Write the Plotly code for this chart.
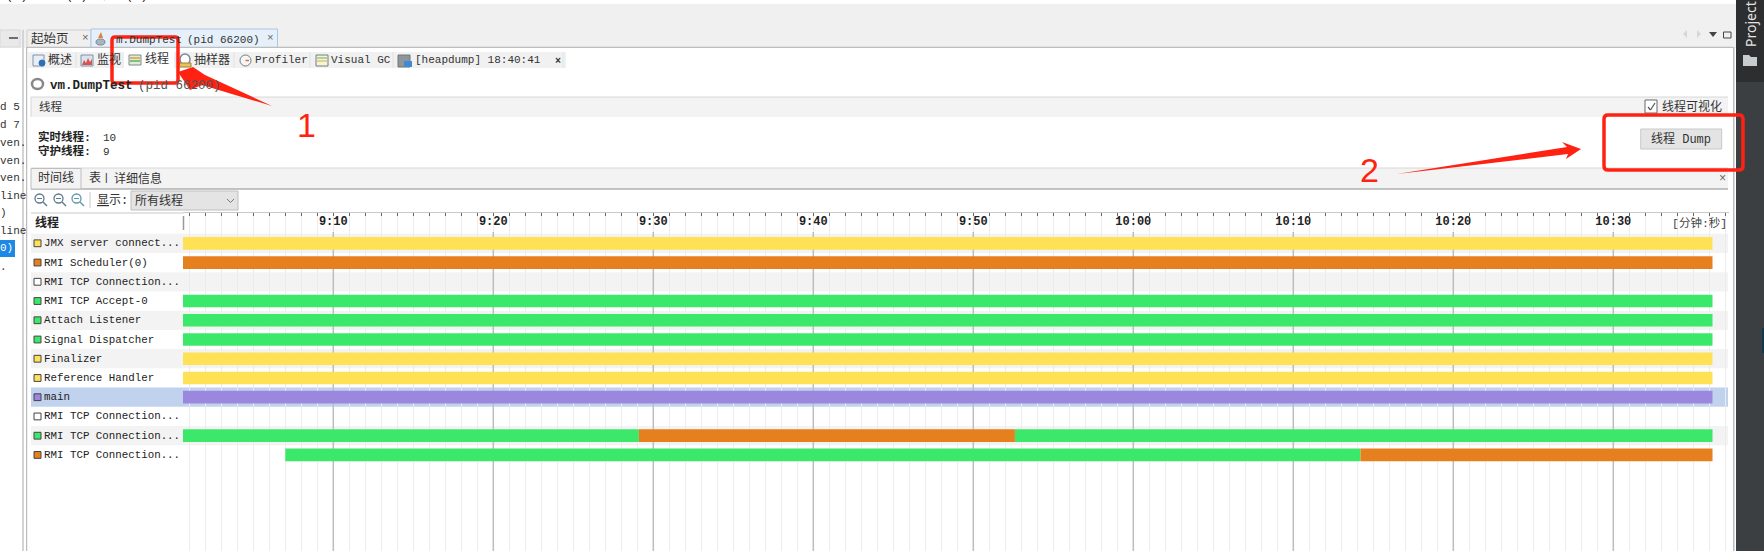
import plotly.graph_objects as go

# ---------- data ----------
thread_names = ["JMX server connect...", "RMI Scheduler(0)", "RMI TCP Connection...", "RMI TCP Accept-0",
                "Attach Listener", "Signal Dispatcher", "Finalizer", "Reference Handler", "main",
                "RMI TCP Connection...", "RMI TCP Connection...", "RMI TCP Connection..."]
thread_marker = ["#FFE156", "#E67F1E", "#FFFFFF", "#3CE86A", "#3CE86A", "#3CE86A", "#FFE156", "#FFE156",
                 "#9B87DE", "#FFFFFF", "#3CE86A", "#E67F1E"]
tick_seconds = [550, 560, 570, 580, 590, 600, 610, 620, 630]
tick_labels = ["9:10", "9:20", "9:30", "9:40", "9:50", "10:00", "10:10", "10:20", "10:30"]

running_rows = [3, 4, 5, 10, 10, 11]
running_start = [540.6, 540.6, 540.6, 540.6, 592.6, 547.0]
running_end = [636.2, 636.2, 636.2, 569.1, 636.2, 614.2]
monitor_rows = [1, 10, 11]
monitor_start = [540.6, 569.1, 614.2]
monitor_end = [636.2, 592.6, 636.2]
wait_rows = [0, 6, 7]
wait_start = [540.6, 540.6, 540.6]
wait_end = [636.2, 636.2, 636.2]
sleep_rows = [8]
sleep_start = [540.6]
sleep_end = [636.2]

GREEN, ORANGE, YELLOW, PURPLE = "#3CE86A", "#E67F1E", "#FFE156", "#9B87DE"
RED = "#FF2212"
W, H = 1764, 551
MONO = "Liberation Mono, Noto Sans CJK SC, monospace"

def px(x): return x / W
def py(y): return 1 - y / H

shapes, annos = [], []

def rect(x0, y0, x1, y1, fill="rgba(0,0,0,0)", line=None, lw=1, layer="below"):
    shapes.append(dict(type="rect", xref="paper", yref="paper", x0=px(x0), x1=px(x1), y0=py(y0), y1=py(y1),
                       fillcolor=fill, line=dict(color=line or "rgba(0,0,0,0)", width=lw if line else 0), layer=layer))

def line(x0, y0, x1, y1, color, lw=1, layer="below"):
    shapes.append(dict(type="line", xref="paper", yref="paper", x0=px(x0), x1=px(x1), y0=py(y0), y1=py(y1),
                       line=dict(color=color, width=lw), layer=layer))

def circ(x0, y0, x1, y1, fill="rgba(0,0,0,0)", col="#888", lw=1, layer="below"):
    shapes.append(dict(type="circle", xref="paper", yref="paper", x0=px(x0), x1=px(x1), y0=py(y0), y1=py(y1),
                       fillcolor=fill, line=dict(color=col, width=lw), layer=layer))

def poly(pts, fill, layer="above"):
    d = "M " + " L ".join(f"{px(a):.5f},{py(b):.5f}" for a, b in pts) + " Z"
    shapes.append(dict(type="path", xref="paper", yref="paper", path=d, fillcolor=fill, line=dict(width=0), layer=layer))

def txt(x, y, s, size=11, color="#333", anchor="left", family=MONO, angle=0):
    annos.append(dict(xref="paper", yref="paper", x=px(x), y=py(y), text=s, showarrow=False, xanchor=anchor,
                      yanchor="middle", textangle=angle, borderpad=0, borderwidth=0,
                      font=dict(size=size, color=color, family=family)))

# ---------- window chrome ----------
rect(0, 4, 1736, 48, "#F0F0F0")
rect(0, 30, 20, 47, "#E9E9E9", "#D8D8D8")
line(9, 38, 18, 38, "#444", 1.5)
rect(22, 30, 24, 551, "#D4D4D4")
rect(26, 47, 27.5, 551, "#BDBDBD")
rect(1733, 47, 1734.5, 551, "#BDBDBD")
rect(1736, 0, 1764, 82, "#2C2E30")
rect(1736, 82, 1764, 551, "#3C3F41")
rect(1762, 328, 1764, 353, "#12384F")

# tabs
rect(27, 30, 91, 47.5, "#EFEFEF", "#CFCFCF")
rect(91, 29, 277.5, 47.5, "#E6F0FA", "#A9C6E2")
line(27, 47.5, 1733, 47.5, "#BDBDBD", 1.5)
rect(27.5, 48, 1733, 551, "#FFFFFF")
rect(28, 52, 566, 68, "#F1F1F1")
rect(123, 50, 175, 70, "#FFFFFF")
for xs in (76, 123, 175, 234, 310, 393, 563):
    line(xs, 52, xs, 68, "#E2E2E2")
# sub-tab icons
rect(33, 55, 44, 66, "#E8EEF5", "#7E93A8")
circ(39, 60, 45, 66, "#2E6FB7", "#2E6FB7")
rect(81, 55, 93, 66, "#D9E3EE", "#7E93A8")
poly([(82, 65), (84, 60), (86, 63), (88, 58), (90, 62), (92, 59), (92, 65)], "#D9534F", "below")
rect(129, 55, 141, 65, "#E5EAD8", "#7D8B8B")
line(130, 58, 140, 58, "#D9A03C", 1.5)
line(130, 61, 140, 61, "#54B56A", 1.5)
circ(180, 54, 190, 65, "#FFFFFF", "#7B8794", 1.5)
rect(179, 63, 191, 67, "#E8C25A", "#A08437")
circ(240, 55, 251, 66, "#F6F6F6", "#6D7B88")
line(245.5, 60.5, 249, 60.5, "#D9703C", 1.5)
rect(316, 55, 328, 66, "#F4F4D8", "#6F8080")
line(317, 58, 327, 58, "#5FB36A", 1)
line(317, 61, 327, 61, "#E0A840", 1)
rect(398, 55, 410, 67, "#8E969C", "#6E767C")
rect(404, 61, 412, 67, "#3D8BD1")
txt(60, 60.5, "概述", 12, anchor="center")
txt(109, 60.5, "监视", 12, anchor="center")
txt(157, 59, "线程", 12, anchor="center")
txt(212, 60.5, "抽样器", 12, anchor="center")
txt(254.5, 60.5, "Profiler", 11)
txt(330.5, 60.5, "Visual GC", 11)
txt(414.5, 60.5, "[heapdump] 18:40:41", 11)
txt(557.5, 61, "<b>×</b>", 10, anchor="center")
# main tabs
txt(50, 39, "起始页", 12.5, anchor="center")
txt(85, 38.5, "×", 11, "#666", "center")
circ(96, 39, 105, 45, "#A8B4BE", "#7A8791")
poly([(98, 38), (101, 32), (103, 38)], "#E0803A", "below")
txt(116, 40, "m.DumpTest", 11)
txt(187, 40, "(pid 66200)", 11)
txt(270, 38.5, "×", 11, "#666", "center")
# right controls
poly([(1683, 34), (1687, 30), (1687, 38)], "#D6D6D6", "below")
poly([(1701, 34), (1697, 30), (1697, 38)], "#D6D6D6", "below")
poly([(1709, 32), (1717, 32), (1713, 37)], "#444444", "below")
rect(1723.5, 32, 1731, 38, "#F0F0F0", "#444", 1)
# heading
circ(32, 79, 43, 89, "rgba(0,0,0,0)", "#888", 2.5)
txt(50, 86.5, "<b>vm.DumpTest</b>", 12.5, "#222")
txt(137.5, 86.5, "(pid 66200)", 12.5, "#555")
# section band
rect(31, 97, 1728, 117, "#F3F3F3")
line(31, 97, 1728, 97, "#D8D8D8", 1)
line(31, 97, 31, 117, "#D8D8D8", 1)
txt(39, 107, "线程", 11.5)
rect(1645, 100, 1657, 113, "#FFFFFF", "#666")
line(1648, 107, 1650.5, 110, "#555", 1.2)
line(1650.5, 110, 1655, 103, "#555", 1.2)
txt(1662, 107, "线程可视化", 12)
# stats
txt(37.5, 137, "<b>实时线程:</b>", 11.5, "#222")
txt(102.5, 137.5, "10", 11)
txt(37.5, 151.5, "<b>守护线程:</b>", 11.5, "#222")
txt(102.5, 152, "9", 11)
# button
rect(1640.7, 129, 1721.7, 149, "#E4E4E4", "#C9C9C9")
txt(1681, 139, "线程 Dump", 12, anchor="center")
# timeline tab bar
rect(31, 168, 1728, 189, "#F3F3F3")
line(31, 168, 1728, 168, "#D8D8D8", 1)
line(31, 189, 1728, 189, "#B0B0B0", 1.5)
rect(31, 168.5, 81, 189, "#F3F3F3", "#BEBEBE")
txt(56, 178.5, "时间线", 12, anchor="center")
txt(89, 178.5, "表", 12)
txt(106, 178, "|", 11, anchor="center")
txt(114, 178.5, "详细信息", 12)
txt(1722, 179, "×", 12, "#666", "center")
# toolbar
for cx, col in ((41, "#5E7A8C"), (60, "#5E7A8C"), (78, "#5E9AAC")):
    circ(cx - 6, 194, cx + 3, 203, "rgba(0,0,0,0)", col, 1.3)
    line(cx + 2, 202, cx + 6, 206, col, 1.5)
    line(cx - 4, 198.5, cx + 1, 198.5, col, 1)
line(90, 192, 90, 208, "#C8C8C8", 1)
txt(97, 200.5, "<u>显</u>示:", 12)
rect(131, 191, 238, 210, "#E4E4E4", "#BEBEBE")
txt(135, 200.5, "所有线程", 12)
line(227, 199, 230.5, 202.5, "#777", 1)
line(230.5, 202.5, 234, 199, "#777", 1)
# column header
line(31, 213, 183, 213, "#C8C8C8", 1)
line(183.5, 216, 183.5, 230, "#999", 1.5)
txt(34.5, 223, "<b>线程</b>", 12, "#222")
txt(1672, 223, "[分钟:秒]", 11.5, "#444")

# left panel clipped text
for y, s in ((107, "d 5"), (125, "d 7"), (143, "ven."), (161, "ven."), (178, "ven."), (196, "line"),
             (213, ")"), (231, "line")):
    txt(0, y, s, 11, "#333")
rect(0, 240, 15, 257, "#1E88E5")
txt(0, 248, "0)", 11, "#FFFFFF")
txt(0, 267, ".", 11, "#333")
# top menu, mostly cut off by the picture edge as in the reference
txt(6, -4, "(E)  工具(T)  窗口(W)", 12, "#333")
# right sidebar
txt(1750, 24, "Project", 14, "#E4E4E4", "center", "Noto Sans", -90)
poly([(1743, 55), (1749, 55), (1751, 57), (1757, 57), (1757, 66), (1743, 66)], "#C9CCCE", "above")

# ---------- thread rows ----------
ROW0 = 243.3
ROWH = 19.24
def row_px(i): return ROW0 + ROWH * i
ytop = (213 - ROW0) / ROWH
ybot = (551 - ROW0) / ROWH
n = len(thread_names)
for i in range(n):
    col = "#C0D2EE" if thread_names[i] == "main" else ("#F3F3F3" if i % 2 == 0 else None)
    if col:
        shapes.append(dict(type="rect", xref="paper", yref="y", x0=px(31), x1=px(1728), y0=i - 0.5, y1=i + 0.5,
                           fillcolor=col, line=dict(width=0), layer="below"))
    c = row_px(i)
    rect(34, c - 3.4, 41, c + 3.4, thread_marker[i], "#444", 1, layer="above")
    txt(43.5, c, thread_names[i], 10.8, "#222")

# major grid lines sit between the minor grid and the bars
for t in tick_seconds:
    shapes.append(dict(type="line", xref="x", yref="y", x0=t, x1=t, y0=(232 - ROW0) / ROWH, y1=ybot,
                       line=dict(color="#BDBDBD", width=1.5), layer="between"))

# ---------- annotations in red ----------
def round_box(x0, y0, x1, y1, r=3):
    return ("M {} {} L {} {} Q {} {} {} {} L {} {} Q {} {} {} {} L {} {} Q {} {} {} {} L {} {} Q {} {} {} {} Z".format(
        px(x0 + r), py(y0), px(x1 - r), py(y0), px(x1), py(y0), px(x1), py(y0 + r), px(x1), py(y1 - r),
        px(x1), py(y1), px(x1 - r), py(y1), px(x0 + r), py(y1), px(x0), py(y1), px(x0), py(y1 - r),
        px(x0), py(y0 + r), px(x0), py(y0), px(x0 + r), py(y0)))
shapes.append(dict(type="path", xref="paper", yref="paper", layer="above", path=round_box(112, 37, 178, 83),
                   line=dict(color=RED, width=3.5)))
shapes.append(dict(type="path", xref="paper", yref="paper", layer="above", path=round_box(1604, 115, 1743, 170, 4),
                   line=dict(color=RED, width=3.5)))
poly([(178, 72), (193, 67), (205, 75), (272, 106), (202, 85), (190, 90)], RED)
poly([(1397, 174), (1567, 147), (1562, 142), (1581, 149), (1566, 159), (1568, 154)], RED)
txt(306, 125, "1", 34, RED, "center", "Liberation Sans")
txt(1369, 170, "2", 34, RED, "center", "Liberation Sans")

# ---------- figure ----------
fig = go.Figure()
def add(rows, start, end, color, name):
    fig.add_trace(go.Bar(orientation="h", y=rows, base=start, x=[e - s for s, e in zip(start, end)],
                         width=12.7 / ROWH, marker=dict(color=color, line=dict(width=0)), name=name,
                         hoverinfo="skip"))
add(running_rows, running_start, running_end, GREEN, "running")
add(monitor_rows, monitor_start, monitor_end, ORANGE, "monitor")
add(wait_rows, wait_start, wait_end, YELLOW, "wait")
add(sleep_rows, sleep_start, sleep_end, PURPLE, "sleeping")

X0, X1 = 183, 1729
fig.update_layout(
    width=W, height=H, autosize=False, showlegend=False, barmode="overlay",
    margin=dict(l=0, r=0, t=0, b=0, pad=0),
    paper_bgcolor="#FFFFFF", plot_bgcolor="rgba(0,0,0,0)",
    shapes=shapes, annotations=annos,
    xaxis=dict(domain=[X0 / W, X1 / W], range=[550 + (X0 - 333.3) / 16, 550 + (X1 - 333.3) / 16],
               side="top", tickmode="array", tickvals=tick_seconds, ticktext=tick_labels,
               ticklabelposition="inside", showgrid=False, zeroline=False,
               ticks="inside", ticklen=3, tickcolor="#666",
               tickfont=dict(family="Liberation Mono", size=12, color="#222", weight="bold"),
               showline=True, linecolor="#C8C8C8", linewidth=1,
               minor=dict(tick0=550, dtick=1, showgrid=True, gridcolor="#ECECEC", gridwidth=1,
                          ticks="inside", ticklen=3, tickcolor="#666")),
    yaxis=dict(domain=[0, (H - 213) / H], range=[ybot, ytop], showgrid=False, zeroline=False,
               showticklabels=False, ticks=""),
)
fig.write_html("out.html", include_plotlyjs=True, config=dict(displayModeBar=False),
               post_script="document.body.style.margin='0';document.body.style.overflow='hidden';")
